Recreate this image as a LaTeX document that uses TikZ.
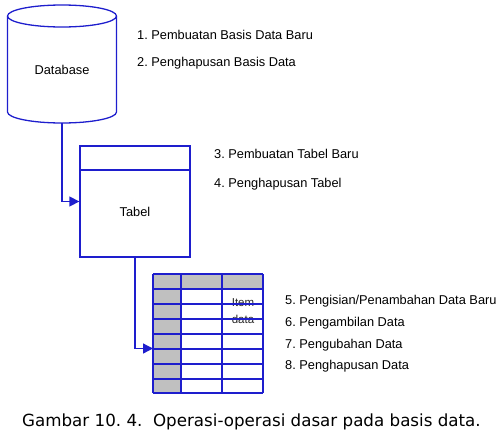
\documentclass[tikz,border=0pt]{standalone}
\usepackage{fontspec}
\setmainfont{Liberation Sans}
\newfontfamily\capfont{DejaVu Sans}
\usetikzlibrary{arrows.meta}
\definecolor{lineblue}{RGB}{30,30,205}
\definecolor{cellgray}{RGB}{192,192,192}
\frenchspacing
\begin{document}
\begin{tikzpicture}[x=1pt,y=-1pt,
  lbl/.style={anchor=base west,font=\fontsize{12.8}{15}\selectfont,inner sep=0pt},
  shapeline/.style={draw=lineblue,line width=1.3pt},
  conn/.style={draw=lineblue,line width=1.3pt,-{Triangle[length=10pt,width=10pt]}},
  gridline/.style={draw=lineblue,line width=1.1pt}]
\useasboundingbox (0,0) rectangle (501,434);
% database cylinder
\draw[shapeline] (7.5,16) -- (7.5,112) arc[start angle=180,end angle=0,x radius=54.5,y radius=11] -- (116.5,16);
\draw[shapeline] (62,16) ellipse[x radius=54.5,y radius=11];
\node[font=\fontsize{12.8}{15}\selectfont] (db) at (62,70) {Database};
\coordinate (dbbot) at (62,123);
% tabel
\node[shapeline,minimum width=110pt,minimum height=111pt,inner sep=0pt] (tabel) at (135,201.5) {};
\draw[shapeline] (80,170) -- (190,170);
\node[font=\fontsize{12.8}{15}\selectfont] (tabellbl) at (135,212) {Tabel};
% grid
\fill[cellgray] (153,274) rectangle (263,289);
\fill[cellgray] (153,289) rectangle (181,393);
\node[font=\fontsize{11.5}{13}\selectfont,text=black!85] (item) at (243,303) {Item};
\node[font=\fontsize{11.5}{13}\selectfont,text=black!85] (data) at (243,319) {data};
\foreach \yy in {274,289,304,319,334,349,364,379,393} \draw[gridline] (153,\yy) -- (263,\yy);
\foreach \xx in {153,181,222,263} \draw[gridline] (\xx,274) -- (\xx,393);
\coordinate (gridin) at (153,348.5);
% connectors
\draw[conn] (dbbot) |- (tabel.west);
\draw[conn] (tabel.south) |- (gridin);
% labels
\node[lbl] (t1) at (137,39) {1. Pembuatan Basis Data Baru};
\node[lbl] (t2) at (137,66) {2. Penghapusan Basis Data};
\node[lbl] (t3) at (214,158) {3. Pembuatan Tabel Baru};
\node[lbl] (t4) at (214,187) {4. Penghapusan Tabel};
\node[lbl] (t5) at (285,304) {5. Pengisian/Penambahan Data Baru};
\node[lbl] (t6) at (285,326) {6. Pengambilan Data};
\node[lbl] (t7) at (285,348) {7. Pengubahan Data};
\node[lbl] (t8) at (285,369) {8. Penghapusan Data};
% caption
\node[anchor=base west,inner sep=0pt,font=\capfont\fontsize{16.7}{20}\selectfont] (cap) at (22,426) {Gambar 10. 4.\ \ Operasi-operasi dasar pada basis data.};
\end{tikzpicture}
\end{document}
